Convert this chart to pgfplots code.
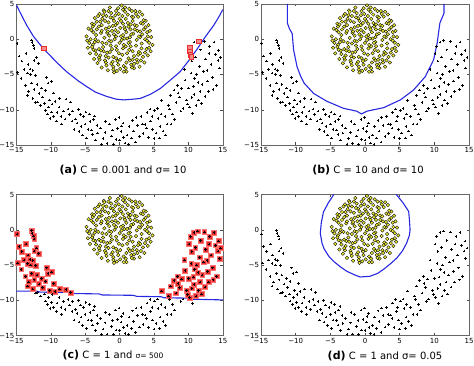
\documentclass[border=0pt]{standalone}
\usepackage{fontspec}
\setmainfont{DejaVu Sans}
\usepackage{pgfplots}
\usepackage{pgfplotstable}
\pgfplotsset{compat=1.18}

\definecolor{ycol}{RGB}{235,235,50}
\definecolor{bcol}{RGB}{40,40,225}
\definecolor{rcol}{RGB}{232,45,45}
\definecolor{pcol}{RGB}{240,140,140}

% yellow class (inner disk)
\pgfplotstableread{
x y
-4.8 0.4
-4.6 -1.2
-4.5 1.5
-4.3 -2.0
-4.2 0.0
-4.0 2.2
-3.9 -0.8
-3.8 1.0
-3.7 -2.8
-3.6 3.0
-3.5 -1.6
-3.4 0.6
-3.3 2.5
-3.2 -3.4
-3.1 -0.3
-3.0 1.8
-2.9 3.6
-2.8 -2.3
-2.7 0.9
-2.6 -4.0
-2.5 2.9
-2.4 -1.1
-2.3 4.1
-2.2 0.2
-2.1 -3.0
-2.0 1.5
-1.9 3.3
-1.8 -1.9
-1.7 -4.4
-1.6 2.4
-1.5 0.5
-1.4 4.5
-1.3 -0.9
-1.2 -3.5
-1.1 1.2
-1.0 3.0
-0.9 -2.5
-0.8 -4.7
-0.7 0.0
-0.6 2.0
-0.5 4.0
-0.4 -1.5
-0.3 -3.1
-0.2 1.0
-0.1 3.6
0.0 -0.5
0.1 -4.2
0.2 2.6
0.3 4.8
0.4 -2.2
0.5 0.6
0.6 -3.8
0.7 1.7
0.8 3.9
0.9 -1.0
1.0 -4.6
1.1 0.1
1.2 2.3
1.3 -2.7
1.4 4.3
1.5 -0.4
1.6 1.4
1.7 -3.6
1.8 3.2
1.9 -1.7
2.0 0.8
2.1 -4.1
2.2 2.0
2.3 4.0
2.4 -0.9
2.5 -2.9
2.6 1.2
2.7 3.2
2.8 -1.8
2.9 -3.9
3.0 0.3
3.1 2.3
3.2 -0.6
3.3 3.5
3.4 -2.5
3.5 1.4
3.6 -3.3
3.7 0.0
3.8 2.6
3.9 -1.4
4.0 1.0
4.1 -2.3
4.2 2.0
4.3 -0.5
4.4 1.2
4.5 -1.7
4.6 0.3
4.8 -0.8
-4.4 -0.5
-3.9 1.8
-3.0 -1.4
-2.6 2.0
-2.0 -2.4
-1.5 -0.2
-1.0 1.9
-0.5 -2.7
0.0 2.9
0.5 -1.3
1.0 1.0
1.5 -3.0
2.0 3.1
2.5 -0.1
3.0 -2.0
3.5 2.7
4.0 -0.2
-3.5 0.0
-2.5 -0.5
-1.5 1.7
-0.5 0.4
0.5 2.2
1.5 0.3
2.5 1.9
-2.9 -2.9
-1.9 -3.7
-0.9 -3.9
0.1 -2.9
1.1 -2.0
2.1 -2.4
-2.2 3.9
-1.2 3.7
-0.2 4.4
0.8 4.5
1.8 4.0
-3.1 3.3
2.9 3.9
-0.4 -4.5
0.6 -4.6
-1.8 0.9
0.3 -0.1
1.3 1.8
-0.8 2.6
0.7 0.1
1.6 -1.0
-1.1 -1.4
-2.3 -1.7
3.3 0.7
-3.7 2.1
1.9 2.6
-0.6 1.3
0.9 2.9
-1.6 -2.6
-4.7 -0.2
-4.1 1.3
-4.0 -1.1
-3.6 -0.4
-3.3 1.4
-3.0 -2.6
-2.7 -1.6
-2.4 3.4
-2.1 2.6
-1.9 -0.6
-1.7 1.1
-1.4 -1.8
-1.3 3.1
-1.0 -3.2
-0.8 0.7
-0.5 -1.0
-0.3 2.3
-0.1 -2.0
0.2 0.4
0.4 3.3
0.6 -0.8
0.8 1.4
1.0 -3.3
1.2 3.5
1.4 -1.5
1.7 0.7
1.9 -2.9
2.2 1.4
2.4 3.6
2.7 -2.2
3.0 1.1
3.2 -1.3
3.4 2.2
3.7 -1.9
4.1 0.4
4.3 -1.2
2.1 -3.5
-2.0 -3.3
-3.4 -2.1
0.9 -4.1
-0.6 3.4
1.6 2.1
-1.2 -0.3
0.1 1.6
2.8 0.4
-2.6 1.2
-0.2 -3.6
1.3 -0.5
-3.8 -1.5
3.8 1.7
-1.6 4.0
0.5 4.2
-2.8 2.5
2.6 -3.3
-0.9 -4.3
1.8 -4.0
3.1 -3.0
}\ptsY

% black class (outer half ring)
\pgfplotstableread{
x y
-14.9 -0.6
-14.6 -2.4
-14.2 -3.1
-13.9 -4.3
-14.3 -5.6
-13.6 -2.0
-13.3 -3.6
-13.0 -4.2
-12.8 -0.1
-12.7 -0.5
-12.5 -0.9
-12.4 -1.3
-12.6 -4.4
-12.2 -5.1
-12.9 -5.0
-13.4 -4.8
-12.1 -2.6
-11.8 -3.4
-12.4 -3.0
-14.8 -4.7
-13.7 -6.6
-13.2 -7.4
-12.8 -6.2
-12.4 -7.1
-12.0 -6.4
-11.7 -7.7
-11.3 -6.9
-12.6 -8.4
-11.9 -8.9
-11.2 -8.2
-10.8 -7.3
-10.4 -6.2
-9.9 -6.0
-10.2 -8.6
-10.9 -9.1
-11.5 -9.4
-12.2 -9.0
-10.6 -5.4
-13.4 -8.0
-9.6 -7.6
-10.8 -10.1
-10.3 -9.6
-9.8 -9.2
-9.4 -8.8
-9.1 -10.4
-9.6 -11.0
-10.1 -11.2
-8.8 -9.6
-8.5 -11.0
-8.1 -10.2
-7.8 -8.5
-7.5 -9.9
-9.2 -11.6
-8.4 -12.0
-7.9 -11.3
-7.3 -10.7
-9.9 -10.3
-8.7 -8.4
-10.5 -10.6
-7.1 -8.9
-6.8 -10.2
-6.4 -11.3
-6.0 -10.0
-5.6 -12.4
-5.9 -13.1
-5.2 -11.0
-4.9 -10.3
-4.6 -12.8
-4.3 -11.7
-3.9 -13.5
-3.6 -10.9
-3.3 -12.2
-6.6 -12.8
-5.4 -13.6
-4.8 -14.0
-4.1 -12.9
-3.8 -11.4
-6.2 -11.9
-5.0 -12.0
-3.2 -13.3
-4.4 -10.6
-5.7 -10.7
-6.9 -11.6
-3.5 -14.3
-2.8 -12.6
-2.4 -14.1
-2.1 -13.2
-1.8 -14.8
-1.5 -12.0
-1.2 -13.7
-0.9 -14.9
-0.6 -11.4
-0.3 -12.7
0.0 -14.3
0.2 -13.1
0.5 -11.9
0.8 -14.7
1.1 -13.6
1.4 -12.4
1.7 -14.0
2.0 -13.0
2.3 -14.6
2.6 -12.2
2.9 -13.8
-2.6 -14.9
-0.1 -11.1
1.3 -14.9
0.6 -13.9
-1.0 -12.9
0.3 -12.3
-2.0 -11.7
1.9 -11.5
-0.5 -14.2
2.4 -11.1
3.1 -11.0
3.4 -13.4
3.7 -12.1
4.0 -10.4
4.2 -13.9
4.5 -11.6
4.8 -12.8
5.1 -10.1
5.3 -13.3
5.6 -11.2
5.9 -12.4
6.1 -8.7
6.3 -13.0
6.6 -11.0
6.9 -12.0
4.4 -9.9
5.0 -14.1
3.9 -12.6
6.0 -10.6
5.5 -9.8
6.7 -13.6
3.3 -12.0
4.7 -11.0
5.8 -14.0
7.1 -9.4
7.4 -8.0
7.7 -10.6
7.9 -7.2
8.2 -9.0
8.4 -6.6
8.0 -11.4
8.7 -8.2
9.0 -7.0
9.2 -9.8
9.5 -5.8
9.7 -8.6
10.0 -6.9
10.2 -9.6
10.4 -4.8
10.6 -10.5
10.8 -7.8
7.5 -12.0
8.9 -10.2
9.9 -9.2
10.5 -8.3
9.4 -4.3
7.3 -9.9
8.5 -7.6
10.9 -5.6
10.3 -1.0
10.1 -2.0
10.5 -3.1
10.8 -0.4
11.0 -2.5
11.3 -0.2
11.6 -3.9
11.2 -5.0
11.8 -1.5
12.0 -6.4
12.3 -0.3
12.5 -2.8
12.7 -4.4
12.9 -7.4
13.1 -1.0
13.3 -3.6
13.5 -5.4
13.7 -0.4
13.9 -2.2
14.1 -6.6
14.3 -3.0
14.5 -4.1
14.7 -2.6
11.5 -8.6
11.9 -9.1
12.4 -8.1
11.4 -6.1
12.8 -5.9
13.6 -7.1
14.4 -1.6
11.1 -9.4
12.2 -4.6
13.0 -2.0
10.7 -6.7
11.7 -7.4
}\ptsB

\pgfplotsset{
  svm/.style={scale only axis, anchor=north west, height=141pt,
    xmin=-15, xmax=15, ymin=-15, ymax=5,
    xtick={-15,-10,...,15}, xticklabels={−15,−10,−5,0,5,10,15},
    ytick={-15,-10,-5,0,5}, yticklabels={−15,−10,−5,0,5},
    tick align=inside, major tick length=2.5pt,
    tick style={black!70, line width=0.4pt},
    axis line style={black!60, line width=0.5pt},
    tick label style={font=\fontsize{7}{8}\selectfont},
    xticklabel style={yshift=1pt}, yticklabel style={xshift=1.5pt}},
  yel/.style={only marks, mark=*, mark size=1.75pt,
    mark options={fill=ycol, draw=black, line width=0.35pt}},
  blk/.style={only marks, mark=+, mark size=1.3pt,
    mark options={draw=black, line width=0.65pt}},
  bnd/.style={bcol, line width=1.1pt, no markers},
}

\begin{document}
\begin{tikzpicture}
\useasboundingbox (0,0) rectangle (474pt,-366pt);

% (a)
\begin{axis}[svm, at={(16.3pt,-4pt)}, width=206.5pt]
\addplot[yel] table {\ptsY};
\addplot[blk] table {\ptsB};
\addplot[only marks, mark=square*, mark size=2.2pt, mark options={fill=pcol, draw=rcol, line width=0.4pt}]
  coordinates {(-11.0,-1.3) (10.2,-1.2) (10.2,-1.7) (10.3,-2.2) (10.4,-2.5) (11.5,-0.3)};
\addplot[bnd] coordinates {
(-15.0,4.9) (-14.5,3.9) (-13.5,2.0) (-12.5,0.4) (-11.1,-1.3) (-10,-2.4) (-9,-3.4)
(-7.7,-4.6) (-6,-5.9) (-4.8,-6.7) (-3.5,-7.5) (-1.9,-8.1) (-0.5,-8.5) (0.6,-8.6)
(2,-8.5) (3,-8.4) (4.5,-7.8) (5.9,-7.0) (7.5,-5.7) (8.8,-4.6) (10,-3.1) (11.2,-1.5)
(12.5,0.4) (13.7,2.0) (14.5,3.3) (15,4.2)};
\end{axis}

% (b)
\begin{axis}[svm, at={(261pt,-4pt)}, width=208pt]
\addplot[yel] table {\ptsY};
\addplot[blk] table {\ptsB};
\addplot[bnd] coordinates {
(-11.2,5) (-11.2,2.3) (-10.9,1.5) (-10.5,0.8) (-10.3,-1.5) (-9.8,-3.9) (-9.3,-5.2)
(-8.8,-6.2) (-7.4,-7.7) (-5.5,-8.8) (-3.1,-9.8) (-1.2,-10.2) (-0.5,-10.6) (0.3,-10.2)
(2.7,-9.7) (5.1,-8.6) (7.0,-7.2) (8.7,-5.3) (9.9,-2.9) (10.4,-0.6) (10.8,2.3)
(11.4,3.7) (11.4,5)};
\end{axis}

% (c)
\begin{axis}[svm, at={(16.3pt,-194.5pt)}, width=206.5pt]
\addplot[only marks, mark=square*, mark size=2.4pt,
  mark options={fill=rcol, draw=red!55, line width=0.4pt},
  y filter/.expression={y > -8.7-0.042*(x+15) ? y : nan}] table {\ptsB};
\addplot[yel] table {\ptsY};
\addplot[blk] table {\ptsB};
\addplot[bnd] coordinates {
(-15,-8.7) (-12,-8.7) (-11.5,-8.85) (-7,-8.9) (-6.5,-9.05) (-3,-9.1) (-2.5,-9.25)
(2,-9.3) (2.5,-9.45) (6,-9.5) (6.5,-9.65) (10,-9.7) (10.5,-9.85) (15,-9.95)};
\end{axis}

% (d)
\begin{axis}[svm, at={(261pt,-194.5pt)}, width=208pt]
\addplot[yel] table {\ptsY};
\addplot[blk] table {\ptsB};
\addplot[bnd] coordinates {
(-4.5,5) (-5.3,3.8) (-6.0,2.5) (-6.3,1.0) (-6.45,-0.5) (-6.2,-1.9) (-5.9,-2.7)
(-5.2,-3.8) (-4.5,-4.5) (-3.5,-5.3) (-2.6,-5.9) (-1.5,-6.4) (-0.7,-6.7) (0.7,-6.6)
(1.8,-6.2) (2.7,-5.6) (3.7,-4.8) (4.6,-4.0) (5.4,-3.0) (6.0,-1.9) (6.4,-0.8)
(6.5,0.0) (6.4,1.5) (6.3,2.6) (5.5,3.8) (4.6,4.9) (4.5,5)};
\end{axis}

% captions
\node[anchor=center] at (123pt,-170pt) {{\fontsize{11}{12}\selectfont\bfseries (a)} {\fontsize{10}{12}\selectfont C = 0.001 and σ= 10}};
\node[anchor=center] at (368pt,-170pt) {{\fontsize{11}{12}\selectfont\bfseries (b)} {\fontsize{10}{12}\selectfont C = 10 and σ= 10}};
\node[anchor=center] at (113pt,-355pt) {{\fontsize{11}{12}\selectfont\bfseries (c)} {\fontsize{10}{12}\selectfont C = 1 and {\fontsize{7.5}{9}\selectfont σ= 500}}};
\node[anchor=center] at (385pt,-356pt) {{\fontsize{11}{12}\selectfont\bfseries (d)} {\fontsize{10}{12}\selectfont C = 1 and σ= 0.05}};
\end{tikzpicture}
\end{document}
